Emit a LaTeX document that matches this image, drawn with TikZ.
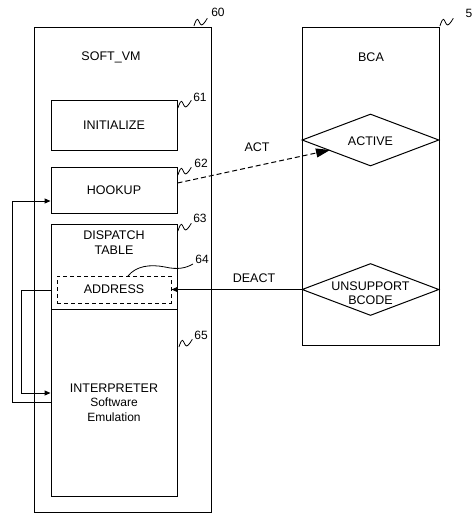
\documentclass[tikz,border=0pt]{standalone}
\usepackage{fontspec}
\setmainfont{Liberation Sans}
\usetikzlibrary{arrows.meta,shapes.geometric}
\begin{document}
\begin{tikzpicture}[x=1pt,y=-1pt,
  line width=1pt,
  box/.style={draw,rectangle,inner sep=0pt},
  dia/.style={draw,diamond,inner sep=0pt,minimum width=137pt,minimum height=52pt},
  txt/.style={inner sep=0pt,font=\fontsize{12.5}{14.5}\selectfont,align=center},
  num/.style={inner sep=0pt,font=\fontsize{12}{14}\selectfont},
  arr/.style={-{Triangle[length=6pt,width=5pt]}},
  bigarr/.style={-{Triangle[length=14pt,width=9pt]}},
  pics/squig/.style={code={\draw[line width=0.8pt] plot[smooth,tension=0.7] coordinates {(0,0) (3.3,-6.7) (7.7,-1) (13.3,-7.7)};}}
]
\useasboundingbox (0,0) rectangle (474,525);
% outer boxes
\node[box,minimum width=177pt,minimum height=485pt] (soft) at (122.5,269.5) {};
\node[box,minimum width=137pt,minimum height=318pt] (bca) at (370.5,186) {};
\node[txt] (softt) at (111,57) {SOFT\_VM};
\node[txt] (bcat) at (371,57) {BCA};
% inner boxes
\node[box,minimum width=126pt,minimum height=50pt,font=\fontsize{12.5}{14}\selectfont] (init) at (114,125) {INITIALIZE};
\node[box,minimum width=126pt,minimum height=46pt,font=\fontsize{12.5}{14}\selectfont] (hook) at (114,190) {HOOKUP};
\node[box,minimum width=126pt,minimum height=85pt] (disp) at (114,266.5) {};
\node[box,minimum width=126pt,minimum height=187pt] (interp) at (114,402.5) {};
\node[txt] (dispt) at (114,242.5) {DISPATCH\\TABLE};
\node[box,dash pattern=on 4pt off 3pt,minimum width=114pt,minimum height=27pt,font=\fontsize{12.5}{14}\selectfont] (addr) at (114,289.5) {ADDRESS};
\node[txt,anchor=north,font=\fontsize{12.5}{14.5}\selectfont] (interpt) at (114,383) {INTERPRETER\\{\fontsize{12}{14.5}\selectfont Software}\\{\fontsize{12}{14.5}\selectfont Emulation}};
% diamonds
\node[dia] (active) at (370.5,140) {};
\node[txt] (activet) at (370.5,141) {ACTIVE};
\node[dia] (unsup) at (370.5,289.5) {};
\node[txt] (unsupt) at (370.5,293) {UNSUPPORT\\BCODE};
% reference numerals
\pic at (194,26) {squig};
\node[num] (n60) at (218,12) {60};
\pic at (178,108) {squig};
\node[num] (n61) at (200,97) {61};
\pic at (178,175) {squig};
\node[num] (n62) at (201,163) {62};
\pic at (178,231) {squig};
\node[num] (n63) at (200,218) {63};
\pic at (179,347) {squig};
\node[num] (n65) at (201,335) {65};
\pic at (440,26) {squig};
\node[num] (n5) at (469,13) {5};
\node[num] (n64) at (202,259) {64};
\draw[line width=0.8pt] (128,276) .. controls (136,266) and (150,264) .. (165,267) .. controls (178,270) and (186,268) .. (193,264);
% connector labels
\node[txt] (actl) at (257,147) {ACT};
\node[txt] (deactl) at (254,278) {DEACT};
% connectors
\coordinate (acttip) at (330,150);
\draw[dash pattern=on 5pt off 3pt,bigarr] ([yshift=7pt]hook.east) -- (acttip);
\draw[arr] (unsup.west) -- (addr.east);
\coordinate (loopA) at (12,402.5);
\draw[arr] (interp.west) -- (loopA) |- ([yshift=-11pt]hook.west);
\coordinate (loopB) at (21,290);
\draw[arr] ([yshift=-23.5pt]disp.west) -- (loopB) |- ([yshift=9.5pt]interp.west);
\end{tikzpicture}
\end{document}
